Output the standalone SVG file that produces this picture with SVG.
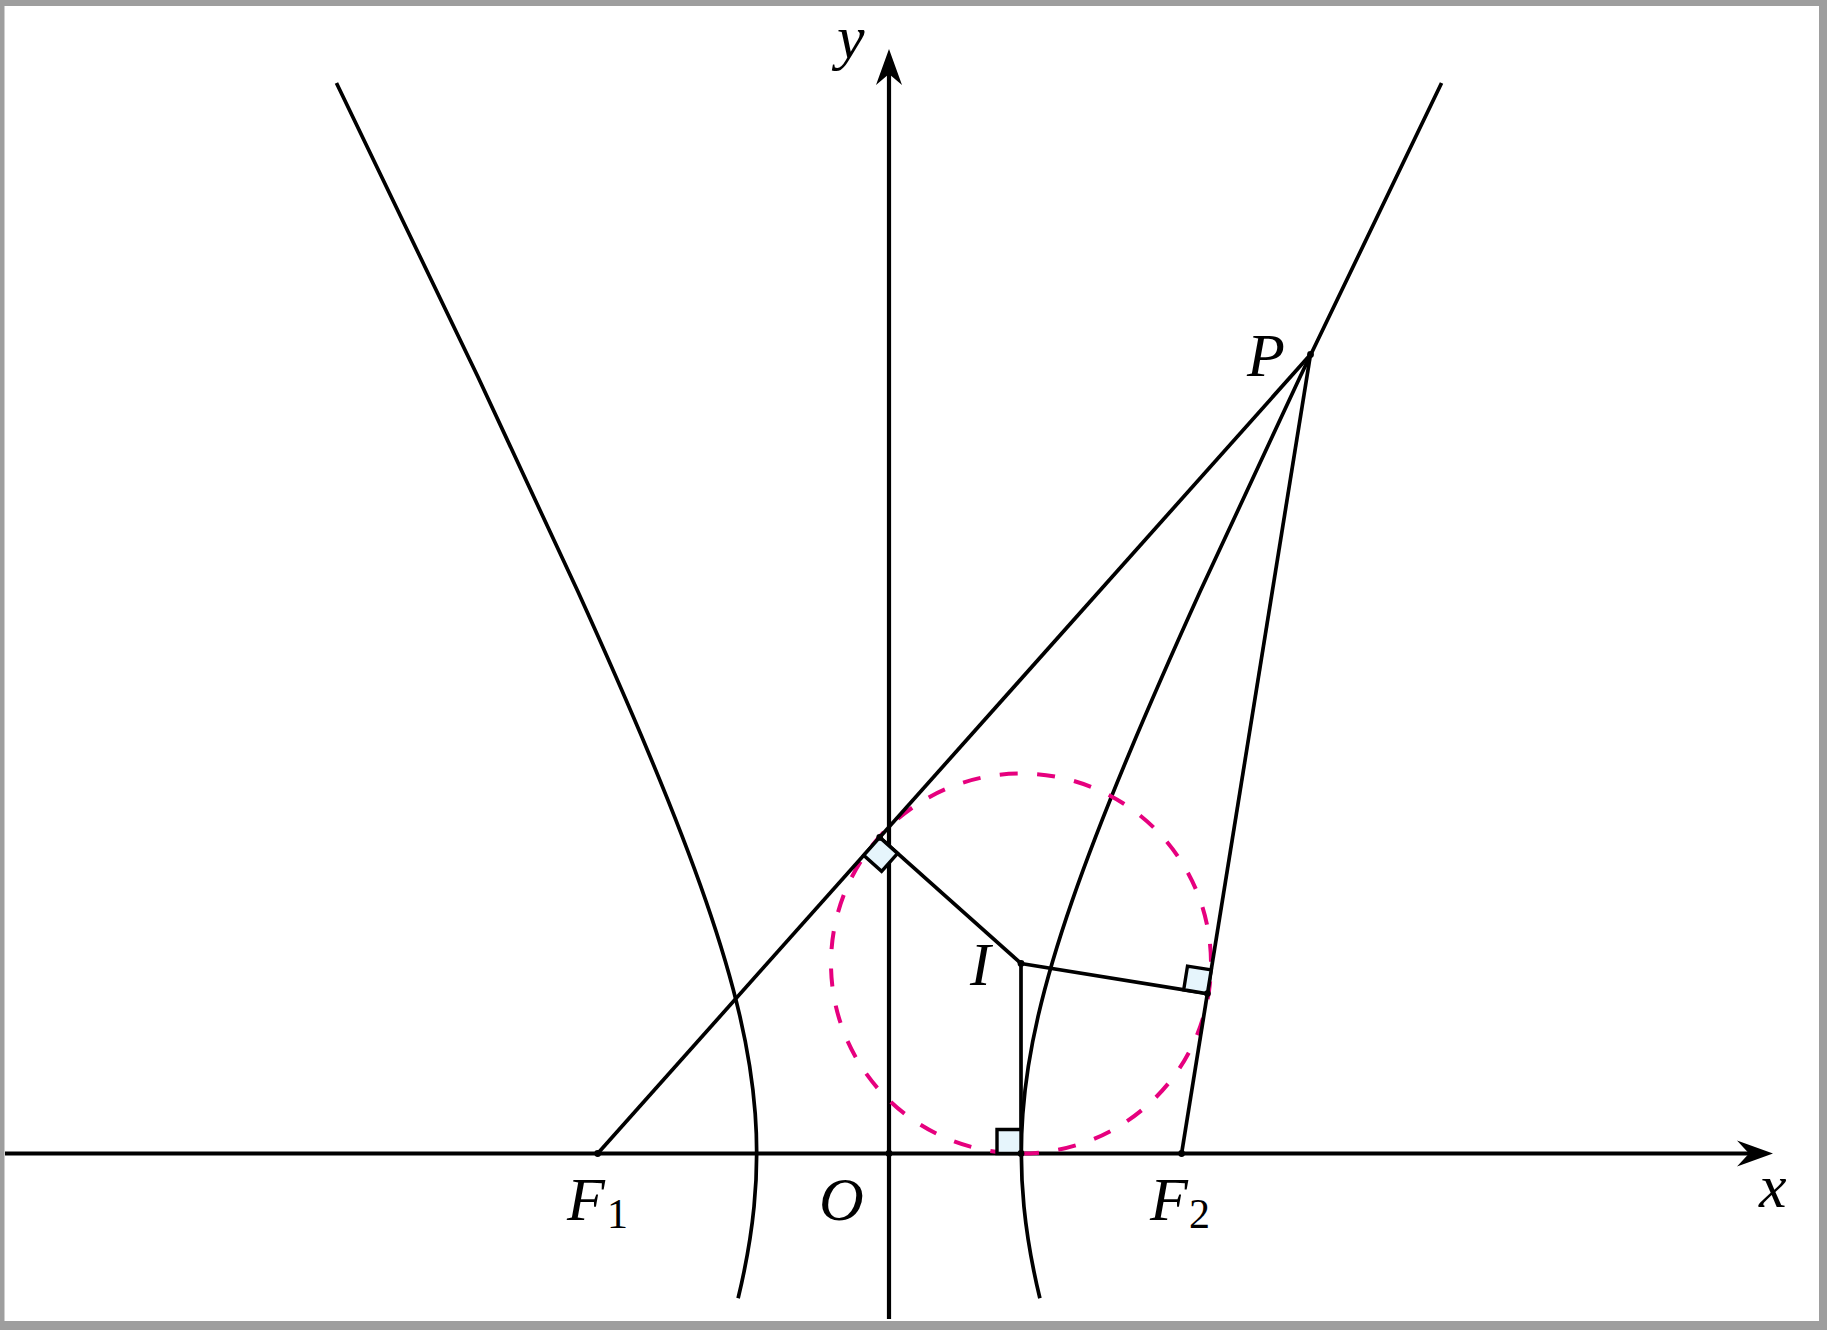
<svg xmlns="http://www.w3.org/2000/svg" width="1827" height="1330" viewBox="0 0 1827 1330">
<defs>
<style>
.ax{stroke:#000;stroke-width:4.2;fill:none}
.ln{stroke:#000;stroke-width:3.7;fill:none;stroke-linecap:butt;stroke-linejoin:round}
.ra{stroke:#000;stroke-width:3.4;fill:#e6f5fc;stroke-linejoin:miter}
.ah{fill:#000;stroke:none}
.dot{fill:#000}
.lbl{font-family:"Liberation Serif","Times New Roman",serif;font-style:italic;font-size:62px;fill:#000}
.sub{font-family:"Liberation Serif","Times New Roman",serif;font-style:normal;font-size:42px;fill:#000}
.circ{stroke:#e6007e;stroke-width:4;fill:none;stroke-dasharray:18 19.5}
</style>
</defs>
<rect x="0" y="0" width="1827" height="1330" fill="#9e9e9e"/>
<rect x="4.5" y="6" width="1814.5" height="1315" fill="#fff"/>

<g id="axes">
<line class="ax" x1="5" y1="1153.5" x2="1752" y2="1153.5"/>
<path class="ah" d="M1773,1153.5 L1737,1140.5 L1749,1153.5 L1737,1166.5 Z"/>
<line class="ax" x1="889" y1="1319" x2="889" y2="72"/>
<path class="ah" d="M889,49 L876,85 L889,74 L902,85 Z"/>
</g>

<g id="hyperbola">
<path id="right-branch" class="ln" d="M1039.89,1298.28 C1032.05,1265.76 1026.84,1235.73 1023.96,1206.64 C1020.85,1175.22 1020.47,1144.90 1022.79,1113.75 C1025.11,1082.60 1030.14,1050.66 1038.18,1015.93 C1046.22,981.20 1057.28,943.70 1072.04,901.09 C1086.80,858.48 1105.26,810.76 1128.56,754.99 C1148.53,707.19 1172.05,653.46 1200.22,591.36 C1228.39,529.26 1261.19,458.80 1300.12,376.76 C1340.08,292.53 1386.47,196.18 1441.55,82.98"/>
<path id="left-branch" class="ln" d="M738.11,1298.28 C745.95,1265.76 751.16,1235.73 754.04,1206.64 C757.15,1175.22 757.53,1144.90 755.21,1113.75 C752.89,1082.60 747.86,1050.66 739.82,1015.93 C731.78,981.20 720.72,943.70 705.96,901.09 C691.20,858.48 672.74,810.76 649.44,754.99 C629.47,707.19 605.95,653.46 577.78,591.36 C549.61,529.26 516.81,458.80 477.88,376.76 C437.92,292.53 391.53,196.18 336.45,82.98"/>
</g>

<g id="incircle">
<path class="circ" d="M1021,1153.5 A190,190 0 0 0 1021,773.5 A190,190 0 0 0 1021,1153.5"/>
</g>

<g id="connectors">
<line class="ln" x1="597.7" y1="1153.5" x2="1310.5" y2="354.5"/>
<line class="ln" x1="1310.5" y1="354.5" x2="1181.6" y2="1153.5"/>
<line class="ln" x1="1021" y1="963.5" x2="879.7" y2="837.4"/>
<line class="ln" x1="1021" y1="963.5" x2="1207.4" y2="993.6"/>
<line class="ln" x1="1021" y1="963.5" x2="1021" y2="1153.5"/>
</g>

<g id="right-angles">
<path class="ra" d="M879.7,837.4 L863.7,855.3 L881.6,871.3 L897.6,853.4 Z"/>
<path class="ra" d="M1207.4,993.6 L1183.7,989.8 L1187.5,966.1 L1211.2,969.9 Z"/>
<path class="ra" d="M1021,1153.5 L997,1153.5 L997,1129.5 L1021,1129.5 Z"/>
</g>

<g id="points">
<circle class="dot" cx="597.7" cy="1153.5" r="3.4"/>
<circle class="dot" cx="889" cy="1153.5" r="3.4"/>
<circle class="dot" cx="1181.6" cy="1153.5" r="3.4"/>
<circle class="dot" cx="1310.5" cy="354.5" r="3.4"/>
<circle class="dot" cx="1021" cy="963.5" r="3.4"/>
<circle class="dot" cx="879.7" cy="837.4" r="3.4"/>
<circle class="dot" cx="1207.4" cy="993.6" r="3.4"/>
<circle class="dot" cx="1021" cy="1153.5" r="3.4"/>
</g>

<g id="labels">
<text class="lbl" x="837" y="58">y</text>
<text class="lbl" x="1759" y="1207">x</text>
<text class="lbl" x="1247" y="376">P</text>
<text class="lbl" x="970" y="985">I</text>
<text class="lbl" x="819" y="1220">O</text>
<text class="lbl" x="567" y="1220">F</text>
<text class="sub" x="607" y="1228">1</text>
<text class="lbl" x="1150" y="1220">F</text>
<text class="sub" x="1189" y="1228">2</text>
</g>
</svg>
